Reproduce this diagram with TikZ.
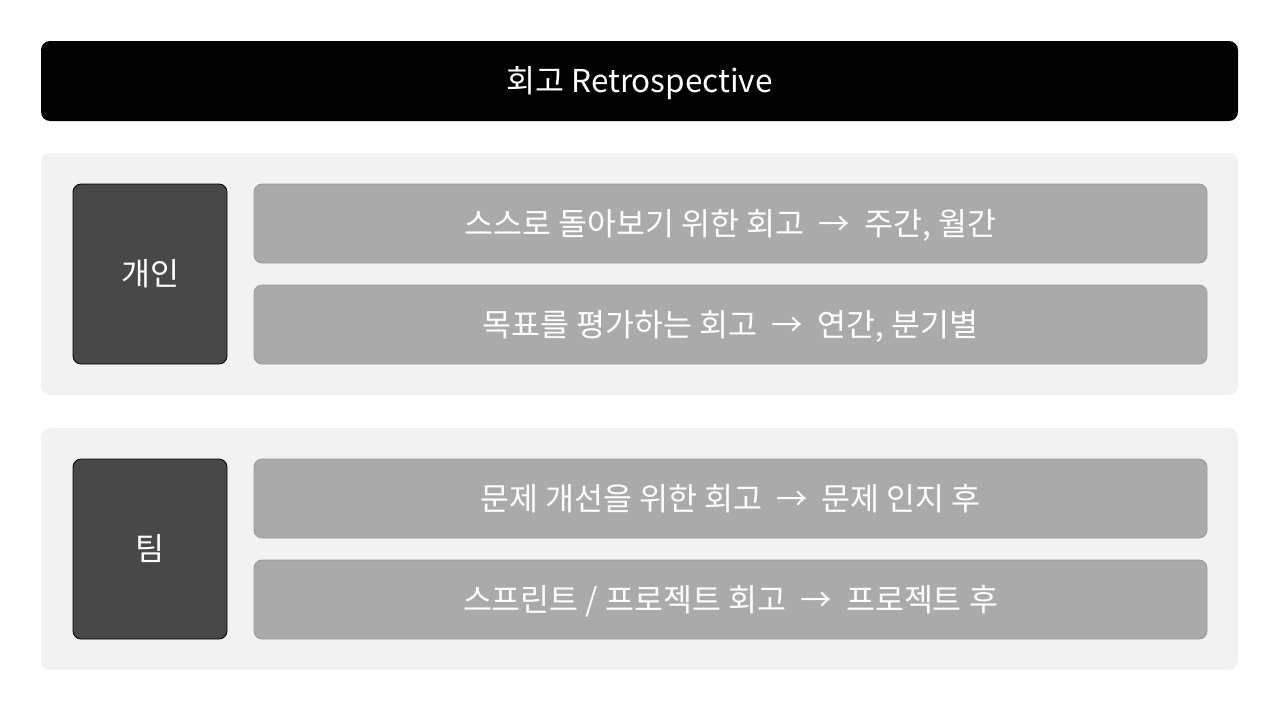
\documentclass[tikz,border=0pt]{standalone}
\usepackage{fontspec}
\setmainfont{Noto Sans CJK KR}
\definecolor{panelgray}{HTML}{F2F2F2}
\definecolor{darkbox}{HTML}{484848}
\definecolor{rowgray}{HTML}{AAAAAA}
\definecolor{rowline}{HTML}{999999}
\tikzset{
  bigtext/.style={text=white, font=\fontsize{31.5}{36}\selectfont, text height=27pt, text depth=4pt},
  titlebar/.style={fill=black, rounded corners=9pt, minimum width=1197pt, minimum height=80pt, bigtext},
  panel/.style={fill=panelgray, rounded corners=9pt, minimum width=1197pt, minimum height=242pt},
  groupbox/.style={fill=darkbox, draw=black, line width=0.8pt, rounded corners=8pt, minimum width=154pt, minimum height=180pt, bigtext},
  rowbox/.style={fill=rowgray, draw=rowline, line width=0.8pt, rounded corners=8pt, minimum width=953pt, minimum height=79pt, bigtext},
}
\begin{document}
\begin{tikzpicture}[x=1pt, y=-1pt]
\useasboundingbox (0,0) rectangle (1280,712);
\node[titlebar] (title) at (639.5,81) {회고 Retrospective};

\node[panel] (p1) at (639.5,274) {};
\node[panel] (p2) at (639.5,549) {};

\node[groupbox] (g1) at (150,274) {개인};
\node[groupbox] (g2) at (150,549) {팀};

\node[rowbox] (r1) at (730.5,223.5) {스스로 돌아보기 위한 회고 \ → \ 주간, 월간};
\node[rowbox] (r2) at (730.5,324.5) {목표를 평가하는 회고 \ → \ 연간, 분기별};
\node[rowbox] (r3) at (730.5,498.5) {문제 개선을 위한 회고 \ → \ 문제 인지 후};
\node[rowbox] (r4) at (730.5,599.5) {스프린트 / 프로젝트 회고 \ → \ 프로젝트 후};
\end{tikzpicture}
\end{document}
